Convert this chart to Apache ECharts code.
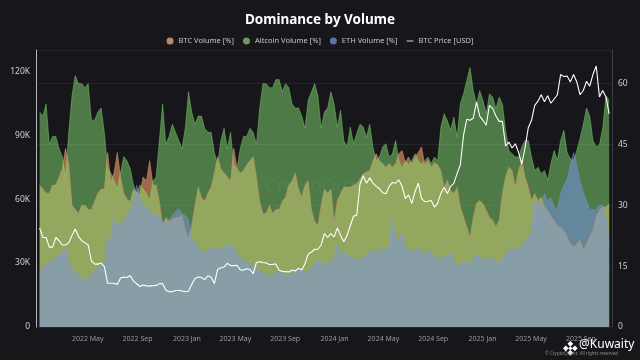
<!DOCTYPE html>
<html><head><meta charset="utf-8">
<script src="https://cdn.jsdelivr.net/npm/echarts@6/dist/echarts.min.js"></script>
<style>html,body{margin:0;padding:0;background:#16161b;}#c{width:640px;height:360px;}</style>
</head><body><div id="c"></div><script>
// sampling: one reading every 8 days starting 2022-01-02
const startDate = '2022-01-02';
const stepDays = 8;

const btcVolume = [
  35,34,33,33,35,35,37,39,44,40, 30,29,28,30,30,29,29,31,33,34,
  34,43,36,38,43,37,33,31.5,31,34, 33,33,37,36,41,35,35,31,25,27,
  26,26.5,27,27,27.5,24,22,25,30,34.5, 32,31,33,34.5,38,42,39,38,37,36,
  44,39,38,38.6,40,41,42,37,31,28, 28,30,28,29,29,31,32,35,36,38,
  34,32,35,36,29,26,25,30,34,33, 34,26,31.2,32.9,34.5,34.5,34.5,35,35.3,36.5,
  37.8,38.2,38.6,41,42.7,41,40.3,39.4,40.3,39.4, 40.3,42.7,43.5,40.5,41.9,40.3,41.9,43,44.4,40,
  41.1,39.5,40.5,40,38.6,34.5,36.2,33.7,32.9,34.5, 29.6,27.1,24.7,22.2,27.1,30.4,31.2,30.4,28.8,27.1,
  26.3,24.7,26.3,32.9,37,39.4,38.6,34.5,38.6,41.1, 37,34.5,31.2,32.9,31.2,32,29.6,28.8,27.1,26.3,
  24.7,24.6,23.8,22.2,20.5,19.7,20.5,21.4,18.9,20.5, 22.2,23.8,27.1,28.8,29.6,29.6,30.4
];
const altVolume = [
  53,52,55,45,47,47,44,42,37,48, 57,62,60,60,59,60,51,51,53,54,
  48,39,38,36,34,38,42,41,39,35, 33,35,34,33,31,36,37,46,55,45,
  47,50,48,46,44,49,58,53,50,52, 52,49,48,48,43,40,46,49,44,48,
  40,39,44,47,47,49,48,45,54,60, 60,59,59,61,61,58,60,59,55,54,
  54,52,49,56,58,60,57,49,53,54, 58,55,49.3,53.4,46,44.4,49.3,45.2,47.7,50,
  49.3,46.8,50,44.4,41,41.9,44.4,45.2,41.9,42.7, 46,41.1,39,41,40,41,42.7,41,40,41,
  41.9,40.3,41.9,41,49.3,52.6,50.9,48.5,51.8,46.8, 55,57.5,60.8,64,58.3,55,58.3,55.9,52.6,57.5,
  56.7,53.8,56.7,55,48.5,43.5,42.7,41.9,41.9,44.4, 46,46,41.9,38.6,39.4,37.8,38.6,36.2,40.3,43.5,
  41.1,46,48.5,43,41.5,41,43.5,46.5,50,54, 52,46,44.4,45,49,57,56
];
const ethVolume = [
  13,14.5,15.5,16,16.5,17,17.5,18.5,19.5,16, 14.5,13.5,13,12,11.5,12,13,14,14.8,15,
  15.6,22,21.5,27,25,25.5,26.3,27.5,28.8,31, 35,31.5,30,29.6,28.5,28,27.7,27.2,26,25.8,
  26.5,27.5,28.5,29.2,28,27.5,26.5,22,20.5,19.5, 18.5,18.3,18.8,19.7,19.3,18.9,19.3,19.7,20,20.5,
  19.5,18,17,16.4,16,15.6,15.2,14.8,14,13.3, 12.8,12.4,12.6,13.5,14,13.3,13.1,13.1,13.1,14,
  14.8,14,13.2,14,14.8,15.8,16.4,16,15.6,16, 15.6,17.3,20.5,16.4,18.9,18,17.3,16.8,16.4,16.8,
  17.3,18,18.9,18.5,18,20,18,19.3,19.7,27.1, 21,22.2,23,20,18.9,18.5,19.3,19.3,18.5,18.2,
  18.7,18.5,17.3,16.6,17.1,17.3,17.7,18.1,16.4,14.8, 15.6,16.4,16,15.6,16.8,18.1,17.3,16.4,16.8,17.3,
  16.8,16,15.6,16.8,17.7,18.9,19.7,19.3,18.9,20.1, 21.4,22.2,23.4,31.2,29.6,30.2,32.9,31.2,32,29.6,
  28.8,33,35,36.5,40,43,40,36,33.3,31.2, 29,29,29,30,30,27,21
];
// BTC price in thousands of USD
const btcPriceK = [
  46.5,42,42,37.5,37.5,42,40.5,38.5,38.5,39.5, 43,46,42.5,40.5,39.5,38.5,31,29.5,29.5,30,
  28.3,20.5,20.5,20.5,20,23,23.5,23.2,24.2,21.5, 20.3,19,19.7,19.3,19.2,19.4,19.5,20.3,20.4,17.2,
  16.6,16.5,17.1,17.2,16.9,16.6,16.8,20,22.8,23.5, 23.2,22.2,24,23.4,20.4,27,27.8,28.2,29.9,28.8,
  28.8,29,26.8,26.7,27.3,27,25,30.3,30.6,30.3, 30.1,29.3,29.4,29.6,26.6,26.1,26,25.8,26.7,26.3,
  27.6,26.8,29.7,34.3,35.2,36.5,36.5,38.5,43.8,42, 43.8,42.3,46.5,43,40,43,47.5,52,52.5,67,
  71,67.5,70,67.5,66,64.9,63,62.5,66,67.8, 67.5,69,66,60.3,62,57.9,63.5,67.5,60.4,58.8,
  59,59.4,56.3,58,62.8,65.5,62.6,66,67.4,72, 76,90,97.5,97,98,105.5,99,97,94.7,104,
  102.6,99,96.5,96.5,85,86.8,84,86,82,76.5, 84,93.5,97,104,106,109,105.7,108.5,105,107,
  109,118.5,117.5,117.8,115,118.5,115,109,111,115.3, 113,118.6,122.5,108,111,108,100
];

const seriesNames = ['BTC Volume [%]','Altcoin Volume [%]','ETH Volume [%]','BTC Price [USD]'];
const xTickDates = ['2022-05-01','2022-09-01','2023-01-01','2023-05-01','2023-09-01','2024-01-01','2024-05-01','2024-09-01','2025-01-01','2025-05-01','2025-09-01'];
const monthNames = ['Jan','Feb','Mar','Apr','May','Jun','Jul','Aug','Sep','Oct','Nov','Dec'];

const DAY = 86400000;
const t0 = Date.parse(startDate + 'T00:00:00Z');
const times = btcVolume.map((_, i) => t0 + i * stepDays * DAY);
const pair = arr => arr.map((v, i) => [times[i], v]);
const xTicks = xTickDates.map(d => Date.parse(d + 'T00:00:00Z'));

const FONT = 'Noto Sans';
const chart = echarts.init(document.getElementById('c'), null, {renderer: 'canvas'});
chart.setOption({
  backgroundColor: '#16161b',
  animation: false,
  textStyle: {fontFamily: FONT},
  title: {
    text: 'Dominance by Volume', left: 'center', top: 8,
    textStyle: {color: '#ffffff', fontSize: 13.5, fontWeight: 'bold', fontFamily: FONT}
  },
  legend: {
    top: 32, left: 'center', itemWidth: 7, itemHeight: 7, itemGap: 9,
    textStyle: {color: '#c8c8c8', fontSize: 7.5, fontFamily: FONT},
    data: [
      {name: seriesNames[0], icon: 'circle'},
      {name: seriesNames[1], icon: 'circle'},
      {name: seriesNames[2], icon: 'circle'},
      {name: seriesNames[3], icon: 'path://M0,0L12,0L12,1.4L0,1.4Z'}
    ]
  },
  grid: {left: 36, right: 28, top: 50, bottom: 33},
  xAxis: {
    type: 'value',
    min: Date.parse('2021-12-24T00:00:00Z'),
    max: Date.parse('2025-11-17T00:00:00Z'),
    axisLine: {show: false}, axisTick: {show: false}, splitLine: {show: false},
    axisLabel: {
      customValues: xTicks,
      color: '#9a9a9a', fontSize: 7, margin: 8, fontFamily: FONT,
      formatter: v => { const d = new Date(v); return d.getUTCFullYear() + ' ' + monthNames[d.getUTCMonth()]; }
    }
  },
  yAxis: [
    {
      type: 'value', position: 'left', min: 0, max: 130, interval: 30,
      axisLine: {show: true, lineStyle: {color: '#b8b8b8', width: 1}},
      axisTick: {show: false}, splitLine: {show: false},
      axisLabel: {color: '#cfcfcf', fontSize: 8.5, margin: 6, showMaxLabel: false, fontFamily: FONT,
        formatter: v => v === 0 ? '0' : v + 'K'}
    },
    {
      type: 'value', position: 'right', min: 0, max: 68.3, interval: 15,
      axisLine: {show: true, lineStyle: {color: '#3c3c42', width: 1}},
      axisTick: {show: false},
      splitLine: {show: true, lineStyle: {color: '#25252b', width: 1}},
      axisLabel: {color: '#cfcfcf', fontSize: 8.5, margin: 6, showMaxLabel: false, fontFamily: FONT}
    }
  ],
  series: [
    {
      name: seriesNames[0], type: 'line', yAxisIndex: 1, data: pair(btcVolume),
      symbol: 'none', showSymbol: false,
      itemStyle: {color: '#b58a68'},
      lineStyle: {width: 0.7, color: 'rgba(200,140,100,0.9)'},
      areaStyle: {color: 'rgba(190,127,85,0.8)', opacity: 1}
    },
    {
      name: seriesNames[1], type: 'line', yAxisIndex: 1, data: pair(altVolume),
      symbol: 'none', showSymbol: false,
      itemStyle: {color: '#6a9a5c'},
      lineStyle: {width: 0.7, color: 'rgba(141,235,118,0.55)'},
      areaStyle: {color: 'rgba(141,235,118,0.47)', opacity: 1}
    },
    {
      name: seriesNames[2], type: 'line', yAxisIndex: 1, data: pair(ethVolume),
      symbol: 'none', showSymbol: false,
      itemStyle: {color: '#5b70b0'},
      lineStyle: {width: 0.7, color: 'rgba(122,150,240,0.5)'},
      areaStyle: {color: 'rgba(122,150,240,0.5)', opacity: 1}
    },
    {
      name: seriesNames[3], type: 'line', yAxisIndex: 0, data: pair(btcPriceK),
      symbol: 'none', showSymbol: false,
      itemStyle: {color: '#ffffff'},
      lineStyle: {width: 1.1, color: '#ffffff'}
    }
  ],
  graphic: [
    {type: 'text', left: 'center', top: 178, silent: true,
      style: {text: 'CryptoQuant', fill: 'rgba(255,255,255,0.05)', fontSize: 18, fontFamily: FONT}},
    {type: 'group', left: 563, top: 341, children: [
      {type: 'rect', shape: {x: -2, y: -2, width: 4, height: 4}, x: 6, y: 1.5, rotation: Math.PI / 4, style: {fill: '#ffffff'}},
      {type: 'rect', shape: {x: -2, y: -2, width: 4, height: 4}, x: 1.5, y: 6, rotation: Math.PI / 4, style: {fill: '#ffffff'}},
      {type: 'rect', shape: {x: -2, y: -2, width: 4, height: 4}, x: 10.5, y: 6, rotation: Math.PI / 4, style: {fill: '#ffffff'}},
      {type: 'rect', shape: {x: -2, y: -2, width: 4, height: 4}, x: 6, y: 10.5, rotation: Math.PI / 4, style: {fill: '#ffffff'}},
      {type: 'rect', shape: {x: -1.5, y: -1.5, width: 3, height: 3}, x: 6, y: 6, rotation: Math.PI / 4, style: {fill: '#ffffff'}}
    ]},
    {type: 'text', left: 579, top: 339, silent: true,
      style: {text: '@Kuwaity', fill: '#ffffff', fontSize: 12, fontFamily: FONT}},
    {type: 'text', left: 545, top: 351, silent: true,
      style: {text: '\u00a9 CryptoQuant. All rights reserved', fill: '#8a8a8a', fontSize: 4.5, fontFamily: FONT}}
  ]
});
</script></body></html>
